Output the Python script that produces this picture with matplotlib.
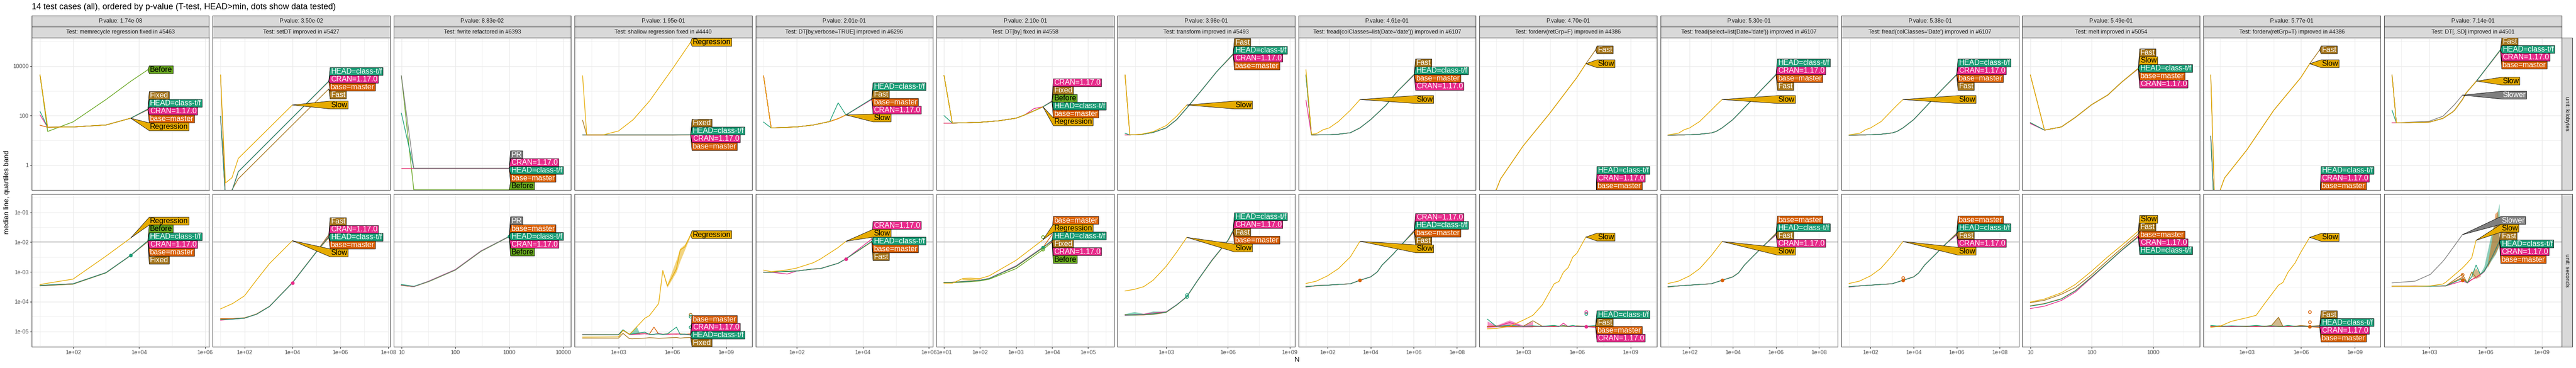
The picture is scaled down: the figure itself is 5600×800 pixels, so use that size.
import matplotlib
matplotlib.use("Agg")
import matplotlib.pyplot as plt
from matplotlib.patches import Polygon
from matplotlib.ticker import NullFormatter
from matplotlib.transforms import IdentityTransform

plt.rcParams['font.family'] = ['Liberation Sans', 'DejaVu Sans']

# series names
HEAD = "HEAD=class-t/f"
CRAN = "CRAN=1.17.0"
BASE = "base=master"
BEFORE = "Before"
REG = "Regression"
FIXED = "Fixed"
SLOW = "Slow"
FAST = "Fast"
PR = "PR"
SLOWER = "Slower"

COLORS = {HEAD: "#1B9E77", CRAN: "#E7298A", BASE: "#D95F02", BEFORE: "#66A61E",
          REG: "#E6AB02", SLOW: "#E6AB02", FIXED: "#A6761D", FAST: "#A6761D",
          PR: "#7F7F7F", SLOWER: "#7F7F7F"}
DARK_TEXT = {BEFORE, REG, SLOW}
# drawing order (last one ends up on top where lines overlap)
ORDER = [BEFORE, FIXED, FAST, BASE, CRAN, HEAD, PR, SLOWER, REG, SLOW]

title = "14 test cases (all), ordered by p-value (T-test, HEAD>min, dots show data tested)"

# ---------------- data, one block per facet column ----------------
# values: first len(list) points of the N grid of that row
p01_pval = "P.value: 1.74e-08"
p01_test = "Test: memrecycle regression fixed in #5463"
p01_xticks = [1e2, 1e4, 1e6]
p01_xlabels = ["1e+02", "1e+04", "1e+06"]
p01_xlim = (5.6, 1.33e6)
p01_N_kb = [10, 17, 100, 1000, 5600, 18600]
p01_kb = {
    HEAD: [148, 34, 35, 42, 79, 182],
    CRAN: [107, 34, 35, 42, 79, 178],
    BASE: [41, 34, 35, 42, 79, 174],
    BEFORE: [4400, 23, 56, 450, 2450, 7200],
    FIXED: [4400, 34, 35, 42, 79, 186],
    REG: [4400, 34, 35, 42, 79],
}
p01_N_s = [10, 100, 1000, 5600, 18600]
p01_s = {
    HEAD: [3.55e-4, 4.0e-4, 9.5e-4, 3.6e-3, 1.1e-2],
    CRAN: [3.5e-4, 4.0e-4, 9.5e-4, 3.6e-3, 1.08e-2],
    BASE: [3.55e-4, 4.0e-4, 9.5e-4, 3.6e-3, 1.06e-2],
    BEFORE: [3.4e-4, 3.9e-4, 9.3e-4, 3.6e-3, 1.12e-2],
    FIXED: [3.45e-4, 3.9e-4, 9.4e-4, 3.6e-3, 1.04e-2],
    REG: [3.8e-4, 5.75e-4, 3.4e-3, 1.38e-2],
}
p01_dots = [(HEAD, 5600, 3.6e-3, True)]
p01_bands = []

p02_pval = "P.value: 3.50e-02"
p02_test = "Test: setDT improved in #5427"
p02_xticks = [1e2, 1e4, 1e6, 1e8]
p02_xlabels = ["1e+02", "1e+04", "1e+06", "1e+08"]
p02_xlim = (4.7, 1.2e8)
p02_N_kb = [10, 16, 30, 55, 10000, 331000]
p02_kb = {
    HEAD: [95, 0.05, 0.09, 0.54, 83, 2500],
    CRAN: [95, 0.05, 0.09, 0.54, 83, 2450],
    BASE: [95, 0.05, 0.09, 0.54, 83, 2400],
    FAST: [4400, 0.05, 0.1, 0.28, 42, 1200],
    SLOW: [4400, 0.19, 0.31, 1.86, 270],
}
p02_N_s = [10, 32, 100, 320, 1100, 10000, 105000, 331000]
p02_s = {
    HEAD: [2.5e-5, 2.6e-5, 2.8e-5, 3.8e-5, 6.9e-5, 4.3e-4, 4.9e-3, 1.51e-2],
    CRAN: [2.4e-5, 2.6e-5, 2.8e-5, 3.8e-5, 6.9e-5, 4.3e-4, 4.9e-3, 1.58e-2],
    BASE: [2.6e-5, 2.7e-5, 2.8e-5, 3.9e-5, 7.0e-5, 4.3e-4, 4.9e-3, 1.41e-2],
    FAST: [2.7e-5, 2.7e-5, 2.9e-5, 3.8e-5, 6.9e-5, 4.4e-4, 5.0e-3, 1.78e-2],
    SLOW: [5.75e-5, 8.7e-5, 1.58e-4, 5.4e-4, 1.9e-3, 1.12e-2],
}
p02_dots = [(CRAN, 10000, 4.3e-4, True)]
p02_bands = []

p03_pval = "P.value: 8.83e-02"
p03_test = "Test: fwrite refactored in #6393"
p03_xticks = [10, 100, 1000, 10000]
p03_xlabels = ["10", "100", "1000", "10000"]
p03_xlim = (7.2, 14000)
p03_N_kb = [10, 17, 1000]
p03_kb = {
    BEFORE: [4100, 0.1, 0.1],
    BASE: [0.746, 0.746, 0.746],
    HEAD: [126, 0.749, 0.749],
    CRAN: [0.752, 0.752, 0.752],
    PR: [4100, 0.755, 0.755],
}
p03_N_s = [10, 17, 32, 100, 300, 1000]
p03_s = {
    BEFORE: [3.6e-4, 3.2e-4, 4.7e-4, 1.15e-3, 4.9e-3, 1.53e-2],
    BASE: [3.5e-4, 3.2e-4, 4.8e-4, 1.17e-3, 5.0e-3, 1.56e-2],
    HEAD: [3.8e-4, 3.3e-4, 4.8e-4, 1.17e-3, 5.0e-3, 1.55e-2],
    CRAN: [3.6e-4, 3.2e-4, 4.9e-4, 1.2e-3, 5.1e-3, 1.54e-2],
    PR: [3.6e-4, 3.2e-4, 4.8e-4, 1.17e-3, 5.0e-3, 1.58e-2],
}
p03_dots = [(HEAD, 1000, 1.55e-2, True)]
p03_bands = []

p04_pval = "P.value: 1.95e-01"
p04_test = "Test: shallow regression fixed in #4440"
p04_xticks = [1e3, 1e6, 1e9]
p04_xlabels = ["1e+03", "1e+06", "1e+09"]
p04_xlim = (3.6, 2.75e10)
p04_N_kb = [10, 17, 135, 1000, 6600, 55000, 1.1e6, 1.05e7]
p04_kb = {
    HEAD: [16.6, 16.6, 16.6, 16.6, 16.6, 16.6, 16.6, 16.8],
    CRAN: [16.6, 16.6, 16.6, 16.6, 16.6, 16.6, 16.6, 16.7],
    BASE: [16.6, 16.6, 16.6, 16.6, 16.6, 16.6, 16.6, 16.6],
    FIXED: [65, 16.6, 16.6, 16.6, 16.6, 16.6, 16.6, 16.9],
    REG: [4100, 16.6, 16.6, 24, 69, 400, 8500, 93000],
}
p04_N_s = [10, 1000, 1780, 4000, 5750, 29500, 52500, 95000, 174000, 295000, 525000, 1.7e6, 2.75e6, 5e6, 1.05e7]
p04_s = {
    HEAD: [7.8e-6, 7.8e-6, 1.15e-5, 8.1e-6, 8.3e-6, 9.5e-6, 8.0e-6, 8.1e-6, 8.3e-6, 8.0e-6, 8.3e-6, 1.4e-5, 8.0e-6, 8.2e-6, 7.6e-6],
    CRAN: [7.9e-6, 7.8e-6, 1.1e-5, 8.0e-6, 8.0e-6, 8.4e-6, 8.1e-6, 8.0e-6, 8.6e-6, 8.1e-6, 8.0e-6, 8.3e-6, 8.1e-6, 8.0e-6, 7.9e-6],
    BASE: [7.9e-6, 7.9e-6, 1.12e-5, 8.2e-6, 8.1e-6, 8.5e-6, 8.2e-6, 1.4e-5, 8.2e-6, 8.1e-6, 8.3e-6, 8.1e-6, 8.3e-6, 8.1e-6, 8.3e-6],
    FIXED: [6.0e-6, 6.0e-6, 8.7e-6, 5.8e-6, 5.7e-6, 6.0e-6, 6.2e-6, 6.1e-6, 5.9e-6, 6.0e-6, 6.1e-6, 6.3e-6, 6.0e-6, 6.2e-6, 6.3e-6],
    REG: [6.5e-6, 6.6e-6, 1.1e-5, 8.1e-6, 9.8e-6, 2.8e-5, 3.4e-5, 5.4e-5, 8.7e-5, 1.12e-3, 3.4e-4, 1.26e-3, 5.5e-3, 6.9e-3, 1.78e-2],
}
p04_dots = [(FIXED, 1.05e7, 3.7e-5, False), (HEAD, 1.05e7, 3.2e-5, False), (HEAD, 1.05e7, 1.4e-5, False)]
p04_bands = [(REG, [295000, 525000, 1.7e6, 2.75e6, 5e6, 1.05e7],
              [1.0e-3, 3.0e-4, 1.0e-3, 2.3e-3, 5.5e-3, 1.6e-2],
              [1.12e-3, 3.9e-4, 2.6e-3, 6.2e-3, 8.5e-3, 1.9e-2]),
             (HEAD, [4000, 10000, 16000], [8.0e-6, 8.0e-6, 8.0e-6], [8.3e-6, 1.5e-5, 8.3e-6])]

p05_pval = "P.value: 2.01e-01"
p05_test = "Test: DT[by,verbose=TRUE] improved in #6296"
p05_xticks = [1e2, 1e4, 1e6]
p05_xlabels = ["1e+02", "1e+04", "1e+06"]
p05_xlim = (5.75, 1.32e6)
p05_N_kb = [10, 17, 100, 320, 1000, 1800, 3100, 18600]
p05_kb = {
    HEAD: [55, 32, 35, 42, 58, 331, 107, 480],
    FAST: [4100, 32, 35, 42, 58, 76, 107, 470],
    BASE: [4100, 32, 35, 42, 58, 76, 107, 460],
    CRAN: [4100, 32, 35, 42, 58, 76, 107, 450],
    SLOW: [4100, 32, 35, 42, 58, 76, 107],
}
p05_N_s = [10, 17, 52, 100, 320, 520, 1800, 3100, 18600]
p05_s = {
    HEAD: [9.8e-4, 9.8e-4, 1.05e-3, 1.07e-3, 1.26e-3, 1.29e-3, 1.95e-3, 2.75e-3, 1.06e-2],
    FAST: [9.8e-4, 9.7e-4, 1.04e-3, 1.07e-3, 1.25e-3, 1.29e-3, 1.95e-3, 2.75e-3, 1.03e-2],
    BASE: [9.9e-4, 9.8e-4, 1.05e-3, 1.08e-3, 1.26e-3, 1.3e-3, 1.96e-3, 2.75e-3, 1.04e-2],
    CRAN: [9.8e-4, 9.8e-4, 8.5e-4, 1.07e-3, 1.26e-3, 1.29e-3, 1.95e-3, 2.75e-3, 1.26e-2],
    SLOW: [1.15e-3, 1.02e-3, 1.17e-3, 1.35e-3, 2.04e-3, 2.7e-3, 6.6e-3, 1.07e-2],
}
p05_dots = [(CRAN, 3100, 2.75e-3, True)]
p05_bands = []

p06_pval = "P.value: 2.10e-01"
p06_test = "Test: DT[by] fixed in #4558"
p06_xticks = [1e1, 1e2, 1e3, 1e4, 1e5]
p06_xlabels = ["1e+01", "1e+02", "1e+03", "1e+04", "1e+05"]
p06_xlim = (6.2, 525000)
p06_N_kb = [10, 17, 100, 330, 1000, 1740, 3200, 5600, 10000]
p06_kb = {
    HEAD: [100, 50, 54, 62, 79, 107, 158, 229, 375],
    CRAN: [50, 50, 54, 62, 79, 107, 195, 229, 390],
    BASE: [50, 50, 54, 62, 79, 107, 158, 229, 370],
    FIXED: [4200, 50, 54, 62, 79, 107, 158, 229, 385],
    BEFORE: [4200, 50, 54, 62, 79, 107, 158, 229, 380],
    REG: [4200, 50, 54, 62, 79, 107, 158, 229],
}
p06_N_s = [10, 17, 32, 54, 100, 180, 1000, 5600, 10000]
p06_s = {
    HEAD: [4.4e-4, 4.5e-4, 4.7e-4, 4.9e-4, 5.25e-4, 6.0e-4, 1.55e-3, 6.6e-3, 1.15e-2],
    CRAN: [4.4e-4, 4.5e-4, 4.7e-4, 4.9e-4, 5.3e-4, 6.1e-4, 1.6e-3, 6.8e-3, 1.05e-2],
    BASE: [4.5e-4, 4.5e-4, 4.8e-4, 5.0e-4, 5.3e-4, 6.0e-4, 1.55e-3, 6.6e-3, 1.78e-2],
    FIXED: [4.4e-4, 4.4e-4, 4.7e-4, 4.9e-4, 5.2e-4, 6.0e-4, 1.5e-3, 6.4e-3, 1.1e-2],
    BEFORE: [4.3e-4, 4.4e-4, 4.5e-4, 4.7e-4, 5.0e-4, 5.7e-4, 1.29e-3, 5.6e-3, 1.0e-2],
    REG: [4.2e-4, 4.2e-4, 5.9e-4, 5.75e-4, 6.0e-4, 7.4e-4, 2.45e-3, 1.2e-2],
}
p06_dots = [(BEFORE, 5600, 1.48e-2, False), (HEAD, 5600, 6.6e-3, True), (BEFORE, 5600, 5.8e-3, False)]
p06_bands = [(REG, [32, 54, 100], [5.4e-4, 5.3e-4, 5.7e-4], [6.4e-4, 6.6e-4, 6.2e-4])]

p07_pval = "P.value: 3.98e-01"
p07_test = "Test: transform improved in #5493"
p07_xticks = [1e3, 1e6, 1e9]
p07_xlabels = ["1e+03", "1e+06", "1e+09"]
p07_xlim = (4.3, 1.78e9)
p07_N_kb = [10, 17, 62, 230, 1000, 3200, 10000, 57500, 282000, 1.78e6]
p07_kb = {
    HEAD: [19.5, 16.6, 17.4, 20.9, 32, 69, 204, 1175, 6000, 30900],
    CRAN: [16.6, 16.6, 17.4, 20.9, 32, 69, 204, 1175, 6000, 30200],
    BASE: [16.6, 16.6, 17.4, 20.9, 32, 69, 204, 1175, 6000, 29500],
    FAST: [4400, 16.6, 17.4, 20.9, 32, 69, 204, 1175, 6000, 31600],
    SLOW: [4400, 16.6, 17.8, 22.4, 40, 95, 270],
}
p07_N_s = [10, 28, 80, 230, 1000, 3200, 10000, 34000, 166000, 1e6, 1.78e6]
p07_s = {
    HEAD: [3.6e-5, 3.6e-5, 3.7e-5, 3.9e-5, 4.5e-5, 7.8e-5, 1.48e-4, 5.25e-4, 2.45e-3, 1.15e-2, 2.5e-2],
    CRAN: [3.5e-5, 3.7e-5, 3.8e-5, 4.2e-5, 4.6e-5, 7.9e-5, 1.5e-4, 5.3e-4, 2.5e-3, 1.15e-2, 2.4e-2],
    BASE: [3.6e-5, 3.6e-5, 3.6e-5, 3.8e-5, 4.4e-5, 7.7e-5, 1.46e-4, 5.2e-4, 2.4e-3, 1.12e-2, 2.2e-2],
    FAST: [3.7e-5, 3.6e-5, 3.7e-5, 3.9e-5, 4.5e-5, 7.8e-5, 1.48e-4, 5.25e-4, 2.45e-3, 1.15e-2, 2.3e-2],
    SLOW: [2.3e-4, 2.6e-4, 3.2e-4, 5.25e-4, 1.55e-3, 4.6e-3, 1.45e-2],
}
p07_dots = [(HEAD, 10000, 1.48e-4, False), (HEAD, 10000, 1.7e-4, False)]
p07_bands = [(HEAD, [10, 28, 80, 230, 1000], [3.4e-5, 3.5e-5, 3.6e-5, 3.7e-5, 4.3e-5],
              [3.9e-5, 4.6e-5, 4.0e-5, 4.8e-5, 4.7e-5])]

p08_pval = "P.value: 4.61e-01"
p08_test = "Test: fread(colClasses=list(Date='date')) improved in #6107"
p08_xticks = [1e2, 1e4, 1e6, 1e8]
p08_xlabels = ["1e+02", "1e+04", "1e+06", "1e+08"]
p08_xlim = (4.5, 7.6e8)
p08_N_kb = [10, 18, 30, 63, 120, 320, 1150, 3200, 10000, 50000, 174000, 1.05e6]
p08_kb = {
    HEAD: [4400, 16.6, 16.6, 16.8, 17, 17.8, 20.4, 32, 69, 257, 955, 4600],
    BASE: [4400, 16.6, 16.6, 16.8, 17, 17.8, 20.4, 32, 69, 257, 955, 4500],
    FAST: [4400, 16.6, 16.6, 16.8, 17, 17.8, 20.4, 32, 69, 257, 955, 4700],
    CRAN: [417, 16.6, 16.6, 16.8, 17, 17.8, 20.4, 32, 69, 257, 955, 4400],
    SLOW: [7200, 17.8, 18.6, 27, 32, 58, 166, 450],
}
p08_N_s = [10, 18, 30, 100, 320, 1150, 3200, 10000, 20400, 34000, 105000, 372000, 1.05e6]
p08_s = {
    HEAD: [3.2e-4, 3.3e-4, 3.5e-4, 3.6e-4, 3.8e-4, 4.0e-4, 5.25e-4, 6.8e-4, 1.0e-3, 1.7e-3, 3.8e-3, 1.05e-2, 2.4e-2],
    BASE: [3.2e-4, 3.3e-4, 3.4e-4, 3.6e-4, 3.8e-4, 4.0e-4, 5.3e-4, 6.8e-4, 1.0e-3, 1.7e-3, 3.8e-3, 1.05e-2, 2.3e-2],
    FAST: [3.3e-4, 3.3e-4, 3.5e-4, 3.6e-4, 3.8e-4, 4.0e-4, 5.25e-4, 6.8e-4, 1.0e-3, 1.7e-3, 3.8e-3, 1.05e-2, 2.2e-2],
    CRAN: [3.1e-4, 3.3e-4, 3.5e-4, 3.6e-4, 3.8e-4, 4.0e-4, 5.25e-4, 6.9e-4, 1.0e-3, 1.7e-3, 3.8e-3, 1.06e-2, 2.5e-2],
    SLOW: [4.1e-4, 4.5e-4, 4.9e-4, 7.4e-4, 1.29e-3, 3.2e-3, 1.07e-2],
}
p08_dots = [(BASE, 3200, 5.25e-4, True)]
p08_bands = []

p09_pval = "P.value: 4.70e-01"
p09_test = "Test: forderv(retGrp=F) improved in #4386"
p09_xticks = [1e3, 1e6, 1e9]
p09_xlabels = ["1e+03", "1e+06", "1e+09"]
p09_xlim = (3.6, 2.95e10)
p09_N_kb = [10, 31, 55, 1000, 29500, 1e6, 3.2e6, 1.12e7]
p09_kb = {
    HEAD: [0.0102, 0.0102, 0.0102, 0.0102, 0.0102, 0.0102, 0.0102, 0.0102],
    CRAN: [0.0101, 0.0101, 0.0101, 0.0101, 0.0101, 0.0101, 0.0101, 0.0101],
    BASE: [0.01, 0.01, 0.01, 0.01, 0.01, 0.01, 0.01, 0.01],
    FAST: [0.05, 0.1, 0.28, 6.0, 120, 3470, 12600, 45700],
    SLOW: [0.05, 0.1, 0.28, 6.0, 120, 3470, 12600],
}
p09_N_s = [10, 31, 174, 1000, 3500, 11700, 54000, 1e5, 178000, 331000, 600000, 1e6, 3.2e6, 1.12e7]
p09_s = {
    HEAD: [2.6e-5, 1.5e-5, 1.6e-5, 1.5e-5, 1.55e-5, 1.5e-5, 1.6e-5, 1.5e-5, 1.55e-5, 1.5e-5, 1.6e-5, 1.5e-5, 1.5e-5, 1.58e-5],
    FAST: [1.5e-5, 1.55e-5, 1.5e-5, 1.5e-5, 2.3e-5, 1.5e-5, 1.55e-5, 1.5e-5, 1.6e-5, 1.5e-5, 1.5e-5, 1.55e-5, 1.5e-5, 1.51e-5],
    BASE: [1.45e-5, 1.5e-5, 1.45e-5, 1.5e-5, 1.45e-5, 1.5e-5, 1.45e-5, 1.5e-5, 1.5e-5, 1.45e-5, 1.5e-5, 1.5e-5, 1.45e-5, 1.45e-5],
    CRAN: [1.4e-5, 1.45e-5, 2.0e-5, 1.45e-5, 1.5e-5, 1.45e-5, 1.5e-5, 1.45e-5, 1.9e-5, 1.45e-5, 1.5e-5, 1.45e-5, 1.45e-5, 1.38e-5],
    SLOW: [1.23e-5, 1.26e-5, 1.5e-5, 2.4e-5, 3.5e-5, 7.8e-5, 4.0e-4, 4.8e-4, 9.8e-4, 1.41e-3, 3.2e-3, 4.2e-3, 1.48e-2],
}
p09_dots = [(CRAN, 3.2e6, 1.45e-5, True), (CRAN, 3.2e6, 4.5e-5, False), (HEAD, 3.2e6, 4.0e-5, False)]
p09_bands = [(CRAN, [10, 31, 174, 1000, 3500], [1.4e-5, 1.4e-5, 1.4e-5, 1.4e-5, 1.4e-5],
              [2.2e-5, 1.6e-5, 2.4e-5, 1.6e-5, 2.2e-5])]

p10_pval = "P.value: 5.30e-01"
p10_test = "Test: fread(select=list(Date='date')) improved in #6107"
p10_xticks = [1e2, 1e4, 1e6, 1e8]
p10_xlabels = ["1e+02", "1e+04", "1e+06", "1e+08"]
p10_xlim = (4.4, 7.4e8)
p10_N_kb = [10, 30, 56, 100, 290, 1000, 1660, 3200, 10000, 43600, 200000, 1.02e6]
p10_kb = {
    HEAD: [16.2, 16.6, 16.6, 17, 17.8, 20, 22.9, 32, 69, 257, 1050, 4700],
    CRAN: [16.2, 16.6, 16.6, 17, 17.8, 20, 22.9, 32, 69, 257, 1050, 4600],
    BASE: [16.2, 16.6, 16.6, 17, 17.8, 20, 22.9, 32, 69, 257, 1050, 4500],
    FAST: [16.2, 16.6, 16.6, 17, 17.8, 20, 22.9, 32, 69, 257, 1050, 4400],
    SLOW: [16.6, 19.5, 27, 32, 58, 166, 260, 450],
}
p10_N_s = [10, 30, 100, 290, 1000, 3200, 10000, 18600, 34700, 93000, 331000, 1.02e6]
p10_s = {
    HEAD: [3.2e-4, 3.4e-4, 3.6e-4, 3.8e-4, 4.0e-4, 5.25e-4, 6.8e-4, 9.3e-4, 1.7e-3, 3.5e-3, 8.7e-3, 1.9e-2],
    CRAN: [3.2e-4, 3.4e-4, 3.6e-4, 3.8e-4, 4.0e-4, 5.3e-4, 6.8e-4, 9.3e-4, 1.7e-3, 3.5e-3, 8.7e-3, 1.74e-2],
    BASE: [3.2e-4, 3.4e-4, 3.6e-4, 3.8e-4, 4.0e-4, 5.25e-4, 6.9e-4, 9.4e-4, 1.7e-3, 3.5e-3, 8.8e-3, 2.0e-2],
    FAST: [3.1e-4, 3.4e-4, 3.6e-4, 3.8e-4, 4.0e-4, 5.25e-4, 6.8e-4, 9.3e-4, 1.7e-3, 3.5e-3, 8.7e-3, 1.82e-2],
    SLOW: [4.1e-4, 4.9e-4, 7.4e-4, 1.29e-3, 3.5e-3, 1.05e-2],
}
p10_dots = [(BASE, 3200, 5.25e-4, True)]
p10_bands = []

p11_pval = "P.value: 5.38e-01"
p11_test = "Test: fread(colClasses='Date') improved in #6107"
p11_xticks = [1e2, 1e4, 1e6, 1e8]
p11_xlabels = ["1e+02", "1e+04", "1e+06", "1e+08"]
p11_xlim = (4.4, 7.6e8)
p11_N_kb = [10, 32, 58, 100, 310, 1000, 1660, 3200, 10000, 41700, 190000, 1e6]
p11_kb = {
    HEAD: [16.2, 16.6, 16.6, 17, 17.8, 20, 22.9, 32, 69, 257, 1050, 4700],
    CRAN: [16.2, 16.6, 16.6, 17, 17.8, 20, 22.9, 32, 69, 257, 1050, 4600],
    BASE: [16.2, 16.6, 16.6, 17, 17.8, 20, 22.9, 32, 69, 257, 1050, 4500],
    FAST: [16.2, 16.6, 16.6, 17, 17.8, 20, 22.9, 32, 69, 257, 1050, 4400],
    SLOW: [16.6, 19.5, 27, 32, 58, 166, 260, 450],
}
p11_N_s = [10, 30, 100, 290, 1000, 3200, 10000, 17400, 32400, 89000, 309000, 1e6]
p11_s = {
    HEAD: [3.2e-4, 3.4e-4, 3.6e-4, 3.8e-4, 4.0e-4, 5.25e-4, 6.8e-4, 9.3e-4, 1.7e-3, 3.5e-3, 8.7e-3, 1.9e-2],
    CRAN: [3.1e-4, 3.4e-4, 3.6e-4, 3.8e-4, 4.0e-4, 5.3e-4, 6.8e-4, 9.3e-4, 1.7e-3, 3.5e-3, 8.7e-3, 1.74e-2],
    BASE: [3.2e-4, 3.4e-4, 3.6e-4, 3.8e-4, 4.0e-4, 5.25e-4, 6.9e-4, 9.4e-4, 1.7e-3, 3.5e-3, 8.8e-3, 2.0e-2],
    FAST: [3.2e-4, 3.4e-4, 3.6e-4, 3.8e-4, 4.0e-4, 5.25e-4, 6.8e-4, 9.3e-4, 1.7e-3, 3.5e-3, 8.7e-3, 1.82e-2],
    SLOW: [4.1e-4, 4.9e-4, 7.4e-4, 1.29e-3, 3.5e-3, 1.05e-2],
}
p11_dots = [(BASE, 3200, 5.25e-4, True), (BASE, 3200, 6.3e-4, False)]
p11_bands = []

p12_pval = "P.value: 5.49e-01"
p12_test = "Test: melt improved in #5054"
p12_xticks = [10, 100, 1000]
p12_xlabels = ["10", "100", "1000"]
p12_xlim = (7.4, 5750)
p12_N_kb = [10, 17, 32, 54, 100, 182, 310, 575]
p12_kb = {
    HEAD: [52, 26, 35, 85, 280, 680, 2300, 8100],
    BASE: [52, 26, 35, 85, 280, 680, 2300, 8000],
    CRAN: [48, 26, 35, 85, 280, 680, 2300, 7900],
    FAST: [4400, 26, 35, 85, 280, 680, 2300, 8300],
    SLOW: [4400, 26, 35, 85, 280, 680, 2300, 8200],
}
p12_N_s = [10, 17, 32, 54, 100, 182, 310, 575]
p12_s = {
    HEAD: [7.1e-5, 8.5e-5, 1.23e-4, 2.3e-4, 6.8e-4, 2.0e-3, 5.4e-3, 1.48e-2],
    BASE: [7.3e-5, 8.7e-5, 1.26e-4, 2.35e-4, 6.9e-4, 2.05e-3, 5.5e-3, 1.6e-2],
    CRAN: [5.9e-5, 7.1e-5, 1.1e-4, 2.1e-4, 6.5e-4, 2.0e-3, 5.3e-3, 1.52e-2],
    FAST: [9.3e-5, 1.12e-4, 1.78e-4, 3.0e-4, 8.1e-4, 2.45e-3, 6.3e-3, 1.9e-2],
    SLOW: [9.8e-5, 1.23e-4, 2.0e-4, 3.8e-4, 1.07e-3, 3.2e-3, 7.9e-3, 2.35e-2],
}
p12_dots = [(CRAN, 575, 1.52e-2, True)]
p12_bands = []

p13_pval = "P.value: 5.77e-01"
p13_test = "Test: forderv(retGrp=T) improved in #4386"
p13_xticks = [1e3, 1e6, 1e9]
p13_xlabels = ["1e+03", "1e+06", "1e+09"]
p13_xlim = (3.85, 2.7e10)
p13_N_kb = [10, 16, 32, 58, 1000, 31600, 1e6, 3.1e6, 1.12e7]
p13_kb = {
    HEAD: [15, 0.0102, 0.0102, 0.0102, 0.0102, 0.0102, 0.0102, 0.0102, 0.0102],
    CRAN: [15, 0.0101, 0.0101, 0.0101, 0.0101, 0.0101, 0.0101, 0.0101, 0.0101],
    BASE: [15, 0.01, 0.01, 0.01, 0.01, 0.01, 0.01, 0.01, 0.01],
    FAST: [4400, 0.05, 0.09, 0.30, 4.1, 166, 3470, 12600, 45700],
    SLOW: [4400, 0.05, 0.09, 0.30, 4.1, 166, 3470, 12600],
}
p13_N_s = [10, 32, 141, 1000, 3300, 9550, 23400, 57500, 1e5, 195000, 479000, 1e6, 3.1e6, 1.12e7]
p13_s = {
    HEAD: [1.6e-5, 1.5e-5, 1.55e-5, 1.5e-5, 1.6e-5, 1.5e-5, 1.55e-5, 1.5e-5, 1.5e-5, 1.6e-5, 1.5e-5, 1.5e-5, 1.5e-5, 1.51e-5],
    CRAN: [1.45e-5, 1.5e-5, 1.45e-5, 1.5e-5, 1.45e-5, 1.5e-5, 1.45e-5, 1.5e-5, 1.5e-5, 1.45e-5, 1.5e-5, 1.45e-5, 1.5e-5, 1.45e-5],
    BASE: [1.5e-5, 1.45e-5, 1.5e-5, 1.45e-5, 1.5e-5, 1.45e-5, 1.5e-5, 1.45e-5, 1.45e-5, 1.5e-5, 1.45e-5, 1.5e-5, 1.45e-5, 1.38e-5],
    FAST: [1.5e-5, 1.55e-5, 1.5e-5, 1.5e-5, 1.55e-5, 1.5e-5, 1.6e-5, 3.0e-5, 1.5e-5, 1.55e-5, 1.5e-5, 1.6e-5, 1.5e-5, 1.58e-5],
    SLOW: [1.38e-5, 1.5e-5, 2.2e-5, 2.9e-5, 3.5e-5, 8.5e-5, 1.74e-4, 3.6e-4, 4.4e-4, 9.8e-4, 2.0e-3, 4.6e-3, 1.45e-2],
}
p13_dots = [(BASE, 3.1e6, 1.45e-5, True), (BASE, 3.1e6, 4.5e-5, False), (BASE, 3.1e6, 2.1e-5, False)]
p13_bands = [(FAST, [23400, 57500, 1e5], [1.5e-5, 1.5e-5, 1.5e-5], [1.6e-5, 3.2e-5, 1.6e-5])]

p14_pval = "P.value: 7.14e-01"
p14_test = "Test: DT[,.SD] improved in #4501"
p14_xticks = [1e3, 1e6, 1e9]
p14_xlabels = ["1e+03", "1e+06", "1e+09"]
p14_xlim = (3.84, 1.15e10)
p14_N_kb = [10, 17, 1000, 5250, 16600, 21900, 57500, 93300, 324000, 6.2e6]
p14_kb = {
    HEAD: [166, 51, 55, 78, 138, 166, 447, 850, 2500, 46000],
    CRAN: [51, 51, 55, 78, 138, 166, 447, 850, 2500, 45000],
    BASE: [51, 51, 55, 78, 138, 166, 447, 850, 2500, 44000],
    FAST: [4400, 51, 55, 78, 138, 166, 447, 850, 2500, 47000],
    SLOWER: [4400, 51, 60, 95, 229, 282, 676],
    SLOW: [4400, 51, 55, 78, 138, 166, 447, 850, 2500],
}
p14_N_s = [10, 170, 1120, 5000, 7400, 57500, 105000, 182000, 309000, 525000, 830000, 2.14e6, 5.5e6]
p14_s = {
    HEAD: [3.3e-4, 3.3e-4, 3.3e-4, 3.4e-4, 3.4e-4, 6.0e-4, 4.3e-4, 7.0e-4, 1.7e-3, 8.3e-4, 1.05e-3, 3.0e-3, 1.08e-2],
    CRAN: [3.3e-4, 3.4e-4, 3.3e-4, 3.4e-4, 3.4e-4, 5.0e-4, 4.3e-4, 5.5e-4, 6.5e-4, 8.0e-4, 1.02e-3, 3.0e-3, 1.06e-2],
    BASE: [3.3e-4, 3.3e-4, 3.3e-4, 3.4e-4, 3.4e-4, 6.6e-4, 4.3e-4, 5.6e-4, 6.6e-4, 8.3e-4, 1.05e-3, 3.0e-3, 1.04e-2],
    FAST: [3.3e-4, 3.3e-4, 3.3e-4, 3.4e-4, 3.4e-4, 8.3e-4, 4.3e-4, 1.0e-3, 6.5e-4, 8.3e-4, 1.05e-3, 3.0e-3, 1.1e-2],
    SLOWER: [4.3e-4, 4.9e-4, 8.3e-4, 2.2e-3, 3.0e-3, 1.78e-2],
    SLOW: [3.3e-4, 3.3e-4, 3.4e-4, 3.9e-4, 4.5e-4, 1.35e-3, 2.0e-3, 3.0e-3, 1.15e-2],
}
p14_dots = [(BASE, 57500, 8.1e-4, False), (BASE, 57500, 5.25e-4, True)]
p14_bands = [(HEAD, [525000, 830000, 2.14e6, 3.5e6, 5.5e6], [8.0e-4, 1.0e-3, 2.5e-3, 4.0e-3, 8.0e-3],
              [9.0e-4, 1.5e-3, 2.2e-2, 6.0e-2, 2.0e-1]),
             (BASE, [1.3e6, 2.14e6, 3.2e6, 4.5e6, 5.5e6], [1.4e-3, 2.8e-3, 4.0e-3, 6.0e-3, 9.0e-3],
              [2.0e-3, 1.2e-2, 9.0e-2, 1.1e-1, 2.0e-2]),
             (FAST, [182000, 309000, 525000], [7.0e-4, 6.0e-4, 7.0e-4], [1.0e-3, 1.3e-3, 9.0e-4])]

panels = [
    (p01_pval, p01_test, p01_xticks, p01_xlabels, p01_xlim, p01_N_kb, p01_kb, p01_N_s, p01_s, p01_dots, p01_bands),
    (p02_pval, p02_test, p02_xticks, p02_xlabels, p02_xlim, p02_N_kb, p02_kb, p02_N_s, p02_s, p02_dots, p02_bands),
    (p03_pval, p03_test, p03_xticks, p03_xlabels, p03_xlim, p03_N_kb, p03_kb, p03_N_s, p03_s, p03_dots, p03_bands),
    (p04_pval, p04_test, p04_xticks, p04_xlabels, p04_xlim, p04_N_kb, p04_kb, p04_N_s, p04_s, p04_dots, p04_bands),
    (p05_pval, p05_test, p05_xticks, p05_xlabels, p05_xlim, p05_N_kb, p05_kb, p05_N_s, p05_s, p05_dots, p05_bands),
    (p06_pval, p06_test, p06_xticks, p06_xlabels, p06_xlim, p06_N_kb, p06_kb, p06_N_s, p06_s, p06_dots, p06_bands),
    (p07_pval, p07_test, p07_xticks, p07_xlabels, p07_xlim, p07_N_kb, p07_kb, p07_N_s, p07_s, p07_dots, p07_bands),
    (p08_pval, p08_test, p08_xticks, p08_xlabels, p08_xlim, p08_N_kb, p08_kb, p08_N_s, p08_s, p08_dots, p08_bands),
    (p09_pval, p09_test, p09_xticks, p09_xlabels, p09_xlim, p09_N_kb, p09_kb, p09_N_s, p09_s, p09_dots, p09_bands),
    (p10_pval, p10_test, p10_xticks, p10_xlabels, p10_xlim, p10_N_kb, p10_kb, p10_N_s, p10_s, p10_dots, p10_bands),
    (p11_pval, p11_test, p11_xticks, p11_xlabels, p11_xlim, p11_N_kb, p11_kb, p11_N_s, p11_s, p11_dots, p11_bands),
    (p12_pval, p12_test, p12_xticks, p12_xlabels, p12_xlim, p12_N_kb, p12_kb, p12_N_s, p12_s, p12_dots, p12_bands),
    (p13_pval, p13_test, p13_xticks, p13_xlabels, p13_xlim, p13_N_kb, p13_kb, p13_N_s, p13_s, p13_dots, p13_bands),
    (p14_pval, p14_test, p14_xticks, p14_xlabels, p14_xlim, p14_N_kb, p14_kb, p14_N_s, p14_s, p14_dots, p14_bands),
]

ylim_kb = (0.0989, 142000)
yticks_kb = [1, 100, 10000]
ylabels_kb = ["1", "100", "10000"]
ylim_s = (3.06e-6, 0.41)
yticks_s = [1e-5, 1e-4, 1e-3, 1e-2, 1e-1]
ylabels_s = ["1e-05", "1e-04", "1e-03", "1e-02", "1e-01"]

# ---------------- layout (pixels) ----------------
W, H = 5600, 800
LEFT0, STEP, PW = 69, 393.4, 385.5
ROW_Y = {"kb": (82, 413), "s": (422, 754)}
LAB_H = 17
GRID = "#EBEBEB"
DARK = "#333333"

fig = plt.figure(figsize=(56, 8), dpi=100)
renderer = fig.canvas.get_renderer()


def minors(ticks, lim):
    out = [(ticks[0] ** 3 / ticks[1]) ** 0.5]
    out += [(a * b) ** 0.5 for a, b in zip(ticks[:-1], ticks[1:])]
    out.append((ticks[-1] ** 3 / ticks[-2]) ** 0.5)
    return [m for m in out if lim[0] <= m <= lim[1]]


def draw_labels(ax, ends):
    # directlabels-like boxes: stacked right of the line ends, with a pointer
    bb = ax.bbox
    pts = [(name,) + tuple(ax.transData.transform((n, v))) for name, n, v in ends]
    left = max(p[1] for p in pts) + 3
    pts.sort(key=lambda p: -p[2])
    top, bot = bb.y1 - LAB_H / 2, bb.y0 + LAB_H / 2
    tg = [min(max(p[2], bot), top) for p in pts]
    blocks = []
    for i, v in enumerate(tg):
        blocks.append([v + i * LAB_H, 1])
        while len(blocks) > 1 and blocks[-2][0] / blocks[-2][1] < blocks[-1][0] / blocks[-1][1]:
            s, c = blocks.pop()
            blocks[-1][0] += s
            blocks[-1][1] += c
    ys = []
    for s, c in blocks:
        ys += [s / c] * c
    ys = [q - i * LAB_H for i, q in enumerate(ys)]
    if ys[0] > top:
        ys[0] = top
        for i in range(1, len(ys)):
            ys[i] = min(ys[i], ys[i - 1] - LAB_H)
    if ys[-1] < bot:
        ys[-1] = bot
        for i in range(len(ys) - 2, -1, -1):
            ys[i] = max(ys[i], ys[i + 1] + LAB_H)
    for (name, x, y), yc in zip(pts, ys):
        txt = ax.text(left + 1.5, yc, name, transform=IdentityTransform(), fontsize=11.8,
                      ha="left", va="center", zorder=7,
                      color="black" if name in DARK_TEXT else "white")
        w = txt.get_window_extent(renderer).width + 3.5
        poly = Polygon([(x, y), (left, yc + LAB_H / 2), (left + w, yc + LAB_H / 2),
                        (left + w, yc - LAB_H / 2), (left, yc - LAB_H / 2)],
                       closed=True, transform=IdentityTransform(), facecolor=COLORS[name],
                       edgecolor="black", linewidth=0.6, zorder=6)
        ax.add_artist(poly)
        poly.set_clip_path(ax.patch)


def style_strip(sax):
    sax.set_facecolor("#D9D9D9")
    sax.set_xticks([])
    sax.set_yticks([])
    for sp in sax.spines.values():
        sp.set_color(DARK)
        sp.set_linewidth(0.75)


for i, (pval, test, xt, xl, xlim, N_kb, kb, N_s, sec, dots, bands) in enumerate(panels):
    x0 = LEFT0 + i * STEP
    for (ya, yb), txt in (((34, 57.8), pval), ((57.8, 81.6), test)):
        sax = fig.add_axes([x0 / W, 1 - yb / H, PW / W, (yb - ya) / H])
        style_strip(sax)
        sax.text(0.5, 0.5, txt, transform=sax.transAxes, ha="center", va="center",
                 fontsize=8.8, color="#1A1A1A")

    for row, N, data in (("kb", N_kb, kb), ("s", N_s, sec)):
        yt, yb = ROW_Y[row]
        ax = fig.add_axes([x0 / W, 1 - yb / H, PW / W, (yb - yt) / H])
        ax.set_xscale("log")
        ax.set_yscale("log")
        ax.set_xlim(*xlim)
        ylim = ylim_kb if row == "kb" else ylim_s
        yticks = yticks_kb if row == "kb" else yticks_s
        ylabels = ylabels_kb if row == "kb" else ylabels_s
        ax.set_ylim(*ylim)
        ax.set_xticks(xt, labels=xl)
        ax.set_xticks(minors(xt, xlim), minor=True)
        ax.set_yticks(yticks, labels=ylabels)
        ax.set_yticks(minors(yticks, ylim), minor=True)
        ax.xaxis.set_minor_formatter(NullFormatter())
        ax.yaxis.set_minor_formatter(NullFormatter())
        ax.grid(which="major", color=GRID, linewidth=1.07)
        ax.grid(which="minor", color=GRID, linewidth=0.55)
        ax.set_axisbelow(True)
        ax.tick_params(which="minor", length=0)
        ax.tick_params(which="major", length=2.75, width=0.8, color=DARK,
                       labelsize=8.8, labelcolor="#4D4D4D", pad=2.2)
        if i > 0:
            ax.tick_params(axis="y", which="major", length=0, labelleft=False)
        if row == "kb":
            ax.tick_params(axis="x", which="major", length=0, labelbottom=False)
        for sp in ax.spines.values():
            sp.set_color(DARK)
            sp.set_linewidth(0.75)
        if row == "s":
            ax.axhline(0.01, color="#A8A8A8", linewidth=1.1, zorder=1.5)
            for name, bn, lo, hi in bands:
                ax.fill_between(bn, lo, hi, color=COLORS[name], alpha=0.5, linewidth=0, zorder=1.8)

        names = [n for n in ORDER if n in data]
        for name in names:
            vals = data[name]
            ax.plot(N[:len(vals)], vals, color=COLORS[name], linewidth=1.07, zorder=2,
                    solid_joinstyle="round")
        if row == "s":
            for name, n, v, filled in dots:
                ax.plot([n], [v], "o", ms=4.5, mec=COLORS[name], mew=1.1,
                        mfc=COLORS[name] if filled else "none", zorder=3)
        ends = [(name, N[len(data[name]) - 1], data[name][-1]) for name in names]
        draw_labels(ax, ends)

    if i == len(panels) - 1:
        for row, txt in (("kb", "unit: kilobytes"), ("s", "unit: seconds")):
            yt, yb = ROW_Y[row]
            sax = fig.add_axes([(x0 + PW) / W, 1 - yb / H, 23.5 / W, (yb - yt) / H])
            style_strip(sax)
            sax.text(0.5, 0.5, txt, transform=sax.transAxes, ha="center", va="center",
                     rotation=-90, fontsize=8.8, color="#1A1A1A")

fig.text(LEFT0 / W, 1 - 16 / H, title, ha="left", va="center", fontsize=13.2)
fig.text(15 / W, 1 - 418 / H, "median line, quartiles band", rotation=90,
         ha="center", va="center", fontsize=11)
fig.text((LEFT0 + 13 * STEP + PW + LEFT0) / 2 / W, 1 - 782 / H, "N",
         ha="center", va="center", fontsize=11)

fig.savefig("out.png", dpi=100)
